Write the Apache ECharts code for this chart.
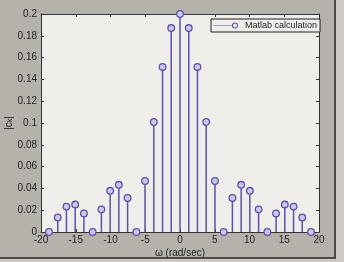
<!DOCTYPE html>
<html><head><meta charset="utf-8">
<script src="https://cdn.jsdelivr.net/npm/echarts@6/dist/echarts.min.js"></script>
<style>html,body{margin:0;padding:0;background:#cdcac6;}#c{width:344px;height:262px;}</style>
</head><body><div id="c"></div>
<script>
var omega = [-18.85,-17.59,-16.34,-15.08,-13.82,-12.57,-11.31,-10.05,-8.80,-7.54,-6.28,-5.03,-3.77,-2.51,-1.26,0,1.26,2.51,3.77,5.03,6.28,7.54,8.80,10.05,11.31,12.57,13.82,15.08,16.34,17.59,18.85];
var ck = [0,0.0134,0.0233,0.0252,0.0170,0,0.0208,0.0378,0.0433,0.0312,0,0.0468,0.1009,0.1514,0.1871,0.2,0.1871,0.1514,0.1009,0.0468,0,0.0312,0.0433,0.0378,0.0208,0,0.0170,0.0252,0.0233,0.0134,0];
var xTicks = {min:-20,max:20,interval:5};
var yTicks = {min:0,max:0.2,interval:0.02};
var seriesName = 'Matlab calculation';

var data = omega.map(function(x,i){return [x, ck[i]];});
var stemColor = '#5a51ab';
var font = '"Liberation Sans Narrow","Liberation Sans",Arial,sans-serif';
var chart = echarts.init(document.getElementById('c'), null, {renderer:'canvas'});
var axisCommon = {
  axisLine:{show:true,onZero:false,lineStyle:{color:'#333',width:1}},
  axisTick:{show:true,inside:true,length:3,lineStyle:{color:'#333'}},
  splitLine:{show:false}
};
chart.setOption({
  backgroundColor:'transparent',
  animation:false,
  graphic:[
    {type:'rect',z:-10,shape:{x:0,y:0,width:336,height:259},style:{fill:'#4d4b49'}},
    {type:'rect',z:-9,shape:{x:0,y:0,width:334,height:257},style:{fill:'#b5b1ab'}}
  ],
  grid:{left:41,right:25,top:14,bottom:30,outerBoundsMode:'none',containLabel:false,show:true,backgroundColor:'#f0eeea',borderWidth:0},
  legend:{
    show:true,left:211,top:19,itemWidth:25,itemHeight:9,itemGap:0,
    padding:[2,3,2,2],
    backgroundColor:'#f0eeea',borderColor:'#222',borderWidth:1,borderRadius:0,
    textStyle:{fontFamily:font,fontSize:9,color:'#222',padding:[0,0,0,2]},
    data:[{name:seriesName,icon:'path://M0,4.2H22V4.8H0Z M21.5,4.5A3.5,3.5 0 1,1 28.5,4.5A3.5,3.5 0 1,1 21.5,4.5Z M22.7,4.5A2.3,2.3 0 1,0 27.3,4.5A2.3,2.3 0 1,0 22.7,4.5Z',itemStyle:{color:stemColor}}]
  },
  xAxis:[
    Object.assign({type:'value',position:'bottom',min:xTicks.min,max:xTicks.max,interval:xTicks.interval,
      axisLabel:{margin:3,fontFamily:font,fontSize:10,color:'#222'},
      name:'\u03c9 (rad/sec)',nameLocation:'middle',nameGap:16,nameMoveOverlap:false,
      nameTextStyle:{fontFamily:font,fontSize:10,color:'#222'}},axisCommon),
    Object.assign({type:'value',position:'top',min:xTicks.min,max:xTicks.max,interval:xTicks.interval,
      axisLabel:{show:false}},axisCommon)
  ],
  yAxis:[
    Object.assign({type:'value',position:'left',min:yTicks.min,max:yTicks.max,interval:yTicks.interval,
      axisLabel:{margin:4,fontFamily:font,fontSize:10,color:'#222'},
      name:'|c{s|k}|',nameLocation:'middle',nameGap:27,nameMoveOverlap:false,
      nameTextStyle:{fontFamily:font,fontSize:10,color:'#222',rich:{s:{fontSize:7,verticalAlign:'bottom',fontFamily:font,color:'#222'}}}},axisCommon),
    Object.assign({type:'value',position:'right',min:yTicks.min,max:yTicks.max,interval:yTicks.interval,
      axisLabel:{show:false}},axisCommon)
  ],
  series:[{
    name:seriesName,type:'custom',data:data,clip:false,
    itemStyle:{color:stemColor},
    encode:{x:0,y:1},
    renderItem:function(params,api){
      var top = api.coord([api.value(0),api.value(1)]);
      var base = api.coord([api.value(0),0]);
      return {type:'group',children:[
        {type:'line',shape:{x1:base[0],y1:base[1],x2:top[0],y2:top[1]},style:{stroke:stemColor,lineWidth:1.5}},
        {type:'circle',shape:{cx:top[0],cy:top[1],r:3.3},style:{fill:'#cdc8ea',stroke:stemColor,lineWidth:1.3}}
      ]};
    }
  }]
});
</script></body></html>
